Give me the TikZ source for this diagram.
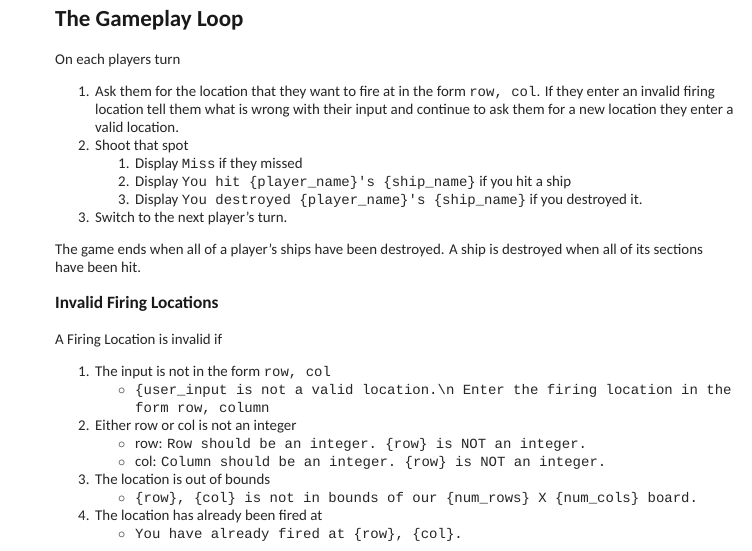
\documentclass[tikz,border=0pt]{standalone}
\usepackage{fontspec}
\setmainfont{Carlito}
\setmonofont{Liberation Mono}
\newcommand{\cc}[1]{{\ttfamily\fontsize{14}{16}\selectfont #1}}
\begin{document}
\begin{tikzpicture}[x=1pt,y=-1pt,
  t/.style={anchor=base west,inner sep=0pt,font=\fontsize{14.9}{16}\selectfont,text=black!85},
  h/.style={anchor=base west,inner sep=0pt,font=\bfseries\fontsize{#1}{24}\selectfont,text=black!90}]
\useasboundingbox[fill=white] (0,0) rectangle (752,551);
\node[h=23] (title) at (55,27) {The Gameplay Loop};
\node[t] (p1) at (55,64) {On each players turn};
\node[t] (n1) at (78,96) {1.};
\node[t] (l1a) at (95,96) {Ask them for the location that they want to fire at in the form \cc{row, col}. If they enter an invalid firing};
\node[t] (l1b) at (95,114) {location tell them what is wrong with their input and continue to ask them for a new location they enter a};
\node[t] (l1c) at (95,132) {valid location.};
\node[t] (n2) at (78,150) {2.};
\node[t] (l2) at (95,150) {Shoot that spot};
\node[t] (s1n) at (118,168) {1.};
\node[t] (s1) at (135,168) {Display \cc{Miss} if they missed};
\node[t] (s2n) at (118,186) {2.};
\node[t] (s2) at (135,186) {Display \cc{You hit \{player\_name\}'s \{ship\_name\}} if you hit a ship};
\node[t] (s3n) at (118,204) {3.};
\node[t] (s3) at (135,204) {Display \cc{You destroyed \{player\_name\}'s \{ship\_name\}} if you destroyed it.};
\node[t] (n3) at (78,222) {3.};
\node[t] (l3) at (95,222) {Switch to the next player's turn.};
\node[t] (p2a) at (55,254) {The game ends when all of a player's ships have been destroyed. A ship is destroyed when all of its sections};
\node[t] (p2b) at (55,272) {have been hit.};
\node[h=17.3] (h2) at (55,308) {Invalid Firing Locations};
\node[t] (p3) at (55,344) {A Firing Location is invalid if};
\node[t] (m1n) at (78,376) {1.};
\node[t] (m1) at (95,376) {The input is not in the form \cc{row, col}};
\node[t] (b1) at (118,394) {$\circ$};
\node[t] (b1a) at (135,394) {\cc{\{user\_input is not a valid location.\textbackslash n Enter the firing location in the}};
\node[t] (b1b) at (135,412) {\cc{form row, column}};
\node[t] (m2n) at (78,430) {2.};
\node[t] (m2) at (95,430) {Either row or col is not an integer};
\node[t] (b2) at (118,448) {$\circ$};
\node[t] (b2a) at (135,448) {row: \cc{Row should be an integer. \{row\} is NOT an integer.}};
\node[t] (b3) at (118,466) {$\circ$};
\node[t] (b3a) at (135,466) {col: \cc{Column should be an integer. \{row\} is NOT an integer.}};
\node[t] (m3n) at (78,484) {3.};
\node[t] (m3) at (95,484) {The location is out of bounds};
\node[t] (b4) at (118,502) {$\circ$};
\node[t] (b4a) at (135,502) {\cc{\{row\}, \{col\} is not in bounds of our \{num\_rows\} X \{num\_cols\} board.}};
\node[t] (m4n) at (78,520) {4.};
\node[t] (m4) at (95,520) {The location has already been fired at};
\node[t] (b5) at (118,538) {$\circ$};
\node[t] (b5a) at (135,538) {\cc{You have already fired at \{row\}, \{col\}.}};
\end{tikzpicture}
\end{document}
